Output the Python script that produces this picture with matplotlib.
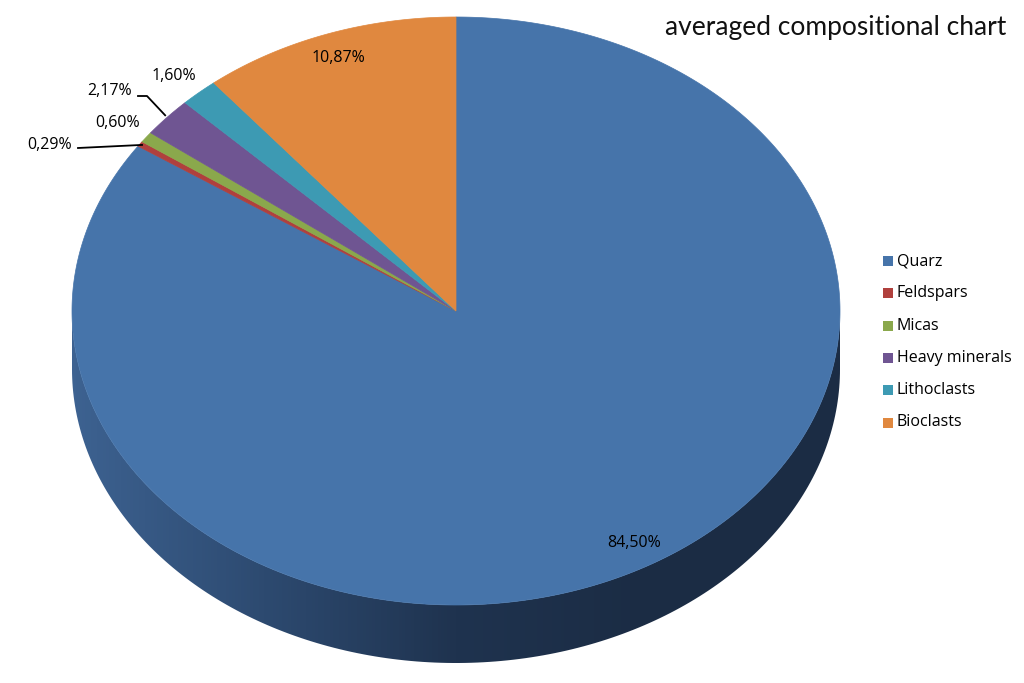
import numpy as np
import matplotlib.pyplot as plt
from matplotlib.patches import Polygon
from matplotlib.colors import LinearSegmentedColormap

# composition values (%)
labels = ["Quarz", "Feldspars", "Micas", "Heavy minerals", "Lithoclasts", "Bioclasts"]
values = [84.50, 0.29, 0.60, 2.17, 1.60, 10.87]
value_text = ["84,50%", "0,29%", "0,60%", "2,17%", "1,60%", "10,87%"]
colors = ["#4674aa", "#b0403d", "#8aa84c", "#6f5592", "#3d9ab3", "#e0883f"]

# ellipse geometry in pixel space
cx, cy = 456, 311
rx, ry = 384, 294
depth = 58

def pt(theta_deg, dy=0):
    t = np.radians(theta_deg)
    return cx + rx * np.cos(t), cy - ry * np.sin(t) + dy

fig = plt.figure(figsize=(10.24, 6.83), dpi=100)
ax = fig.add_axes([0, 0, 1, 1])
ax.set_xlim(0, 1024)
ax.set_ylim(683, 0)
ax.axis("off")

# side of the disc (front half only), with horizontal gradient
th = np.linspace(180, 360, 200)
top_x, top_y = pt(th)
bot_x, bot_y = pt(th[::-1], depth)
side = Polygon(np.column_stack([np.r_[top_x, bot_x], np.r_[top_y, bot_y]]),
               closed=True, facecolor="none", edgecolor="none")
ax.add_patch(side)
side_cmap = LinearSegmentedColormap.from_list(
    "side", ["#3d6291", "#2d4a70", "#1f334f", "#1b2c44", "#1b2c44"])
grad = np.linspace(0, 1, 256).reshape(1, -1)
img = ax.imshow(grad, cmap=side_cmap, extent=[cx - rx, cx + rx, cy + ry + depth + 2, cy - 2],
                aspect="auto", zorder=1)
img.set_clip_path(side)
ax.set_xlim(0, 1024)
ax.set_ylim(683, 0)

# top face wedges, clockwise from 12 o'clock
start = 90.0
mids = []
for val, col in zip(values, colors):
    sweep = val / sum(values) * 360
    a = np.linspace(start, start - sweep, max(int(sweep * 2), 4))
    xs, ys = pt(a)
    poly = Polygon(np.column_stack([np.r_[cx, xs], np.r_[cy, ys]]), closed=True,
                   facecolor=col, edgecolor=col, linewidth=0.5, zorder=2)
    ax.add_patch(poly)
    mids.append(start - sweep / 2)
    start -= sweep

fs = 11.5
fam = ["Open Sans", "DejaVu Sans"]
# data labels
ax.text(634, 543, value_text[0], ha="center", va="center", fontsize=fs, family=fam, zorder=5)
ax.text(338, 58, value_text[5], ha="center", va="center", fontsize=fs, family=fam, zorder=5)
ax.text(174, 76, value_text[4], ha="center", va="center", fontsize=fs, family=fam, zorder=5)
ax.text(110, 91, value_text[3], ha="center", va="center", fontsize=fs, family=fam, zorder=5)
ax.text(118, 123, value_text[2], ha="center", va="center", fontsize=fs, family=fam, zorder=5)
ax.text(50, 145, value_text[1], ha="center", va="center", fontsize=fs, family=fam, zorder=5)

# leader lines
ex, ey = pt(mids[3])
ax.plot([138, 147, ex - 2], [96, 96, ey - 2], color="black", lw=1.3, zorder=4)
ex, ey = pt(mids[1])
ax.plot([78, ex + 2], [148, ey + 1], color="black", lw=1.3, zorder=4)

# legend
for i, (lab, col) in enumerate(zip(labels, colors)):
    y = 261 + i * 32.3
    ax.add_patch(plt.Rectangle((883, y - 5), 10, 10, facecolor=col, edgecolor="none"))
    ax.text(897, y, lab, ha="left", va="center", fontsize=fs, family=fam)

# title
ax.text(1006, 28, "averaged compositional chart", ha="right", va="center",
        fontsize=19, family=["Lato", "DejaVu Sans"], color="#111111")

fig.savefig("out.png", dpi=100, facecolor="white")
